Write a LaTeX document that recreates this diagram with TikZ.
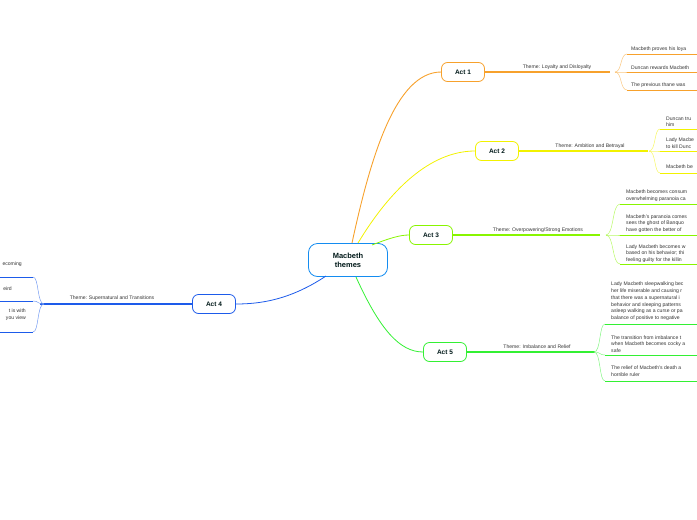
\documentclass[tikz,border=0pt]{standalone}
\usepackage{fontspec}
\setmainfont{Liberation Sans}
\begin{document}
\begin{tikzpicture}[x=1pt,y=-1pt,
  act/.style={draw=#1,line width=0.8pt,rounded corners=6pt,fill=white,minimum width=43pt,minimum height=19pt,font=\fontsize{6.5}{7}\selectfont\bfseries,text=black!80!teal},
  lbl/.style={font=\fontsize{5.1}{6.8}\selectfont,text=black!80,inner sep=0pt,align=left},
  thm/.style={line width=1.2pt,draw=#1},
  br/.style={draw=#1!60,line width=0.5pt}]
\useasboundingbox (0,0) rectangle (697,520);
\clip (0,0) rectangle (697,520);
\definecolor{cO}{HTML}{F7A12C}\definecolor{cY}{HTML}{F2F200}\definecolor{cL}{HTML}{88F500}
\definecolor{cG}{HTML}{33F033}\definecolor{cB}{HTML}{1D5BEA}
% center
\node[draw=cB!70!cyan,line width=0.8pt,rounded corners=9pt,minimum width=79pt,minimum height=33pt,align=center,font=\fontsize{7.5}{9}\selectfont\bfseries,text=black!80!teal,fill=white] (c) at (348,260) {Macbeth\\themes};
\node[act=cO] (a1) at (463,72) {Act 1};
\node[act=cY] (a2) at (497,151) {Act 2};
\node[act=cL] (a3) at (431,235) {Act 3};
\node[act=cB] (a4) at (214,304) {Act 4};
\node[act=cG] (a5) at (445,352) {Act 5};
\draw[cO,line width=0.9pt] (352,243) .. controls (370,160) and (395,72) .. (a1.west);
\draw[cY,line width=0.8pt] (358,243) .. controls (390,190) and (430,151) .. (a2.west);
\draw[cL,line width=0.8pt] (372,245) .. controls (390,238) and (400,235) .. (a3.west);
\draw[cB,line width=0.8pt] (326,276) .. controls (290,300) and (260,304) .. (a4.east);
\draw[cG,line width=0.8pt] (356,277) .. controls (380,330) and (400,352) .. (a5.west);
% Act 1
\coordinate (t1) at (610,72);
\draw[thm=cO] (a1.east) -- (t1);
\node[lbl,anchor=south] (t1l) at (557,70) {Theme: Loyalty and Disloyalty};
\foreach \y/\n in {54/a,72/b,90/c}{\coordinate (s1\n) at (627,\y);
 \draw[br=cO] (615,72) .. controls (622,72) and (620,\y) .. (s1\n);
 \draw[cO,line width=1pt] (s1\n) -- (697,\y);}
\node[lbl,anchor=south west] (x1a) at (631,51.5) {Macbeth proves his loya};
\node[lbl,anchor=south west] (x1b) at (631,69.5) {Duncan rewards Macbeth};
\node[lbl,anchor=south west] (x1c) at (631,87.5) {The previous thane was};
% Act 2
\coordinate (t2) at (648,151);
\draw[thm=cY] (a2.east) -- (t2);
\node[lbl,anchor=south] (t2l) at (590,149) {Theme: Ambition and Betrayal};
\foreach \y/\n in {129/a,151/b,173/c}{\coordinate (s2\n) at (660,\y);
 \draw[br=cY] (649,151) .. controls (656,151) and (654,\y) .. (s2\n);
 \draw[cY,line width=1pt] (s2\n) -- (697,\y);}
\node[lbl,anchor=south west] (x2a) at (666,127) {Duncan tru\\him};
\node[lbl,anchor=south west] (x2b) at (666,149) {Lady Macbe\\to kill Dunc};
\node[lbl,anchor=south west] (x2c) at (666,169) {Macbeth be};
% Act 3
\coordinate (t3) at (600,235);
\draw[thm=cL] (a3.east) -- (t3);
\node[lbl,anchor=south] (t3l) at (538,233) {Theme: Overpowering/Strong Emotions};
\foreach \y/\n in {204/a,235/b,264/c}{\coordinate (s3\n) at (620,\y);
 \draw[br=cL] (606,235) .. controls (614,235) and (612,\y) .. (s3\n);
 \draw[cL,line width=1pt] (s3\n) -- (697,\y);}
\node[lbl,anchor=south west] (x3a) at (626,202) {Macbeth becomes consum\\overwhelming paranoia ca};
\node[lbl,anchor=south west] (x3b) at (626,233) {Macbeth's paranoia comes\\sees the ghost of Banquo\\have gotten the better of};
\node[lbl,anchor=south west] (x3c) at (626,263) {Lady Macbeth becomes w\\based on his behavior; thi\\feeling guilty for the killin};
% Act 5
\coordinate (t5) at (595,352);
\draw[thm=cG] (a5.east) -- (t5);
\node[lbl,anchor=south] (t5l) at (537,349) {Theme: Imbalance and Relief};
\foreach \y/\n in {324/a,355/b,381/c}{\coordinate (s5\n) at (605,\y);
 \draw[br=cG] (594,352) .. controls (601,352) and (599,\y) .. (s5\n);
 \draw[cG,line width=1pt] (s5\n) -- (697,\y);}
\node[lbl,anchor=south west] (x5a) at (611,321) {Lady Macbeth sleepwalking bec\\her life miserable and causing r\\that there was a supernatural i\\behavior and sleeping patterns\\asleep walking as a curse or pa\\balance of positive to negative};
\node[lbl,anchor=south west] (x5b) at (611,353) {The transition from imbalance t\\when Macbeth becomes cocky a\\safe};
\node[lbl,anchor=south west] (x5c) at (611,377) {The relief of Macbeth's death a\\horrible ruler};
% Act 4
\coordinate (t4) at (40,304);
\draw[thm=cB] (a4.west) -- (t4);
\node[lbl,anchor=south] (t4l) at (112,301) {Theme: Supernatural and Transitions};
\foreach \y/\n in {277/a,301/b,332/c}{\coordinate (s4\n) at (33,\y);
 \draw[br=cB] (44,304) .. controls (37,304) and (39,\y) .. (s4\n);
 \draw[cB,line width=1pt] (s4\n) -- (0,\y);}
\node[lbl,anchor=south east] (x4a) at (22,267) {ecoming};
\node[lbl,anchor=south east] (x4b) at (12,290.5) {eird};
\node[lbl,anchor=south east,align=right] (x4c) at (26,321) {t is with\\ you view};
\end{tikzpicture}
\end{document}
